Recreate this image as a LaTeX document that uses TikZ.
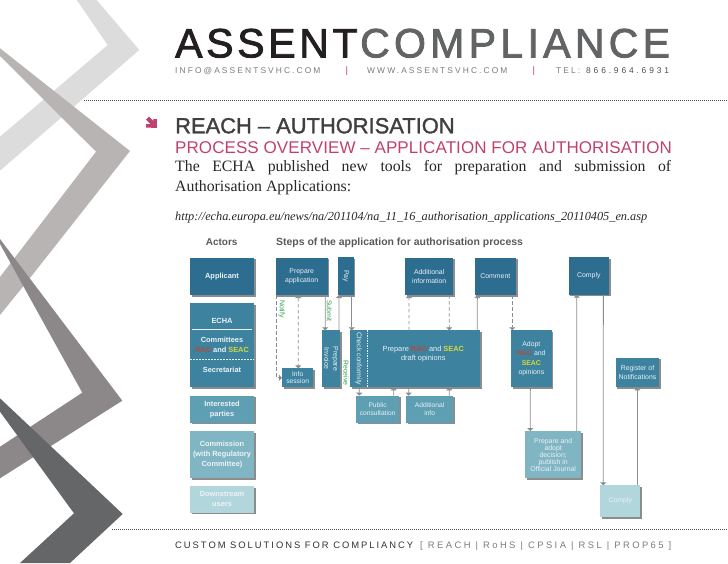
\documentclass[tikz,border=0pt]{standalone}
\usepackage{xcolor}
\usepackage{fontspec}
\usepackage{tikz}
\usetikzlibrary{positioning}
\usetikzlibrary{arrows.meta}
\usetikzlibrary{shadows}

\setmainfont{Liberation Sans}
\newfontfamily\headfont[LetterSpace=9,FakeBold=2]{Liberation Sans}
\newfontfamily\tailfont[LetterSpace=10.5,FakeBold=2]{Liberation Sans}
\newfontfamily\titlefont[FakeBold=1.5]{Liberation Sans}
\newfontfamily\stripfont[LetterSpace=25]{Liberation Sans}
\newfontfamily\digitfont[LetterSpace=34]{Liberation Sans}
\newfontfamily\footfont[LetterSpace=21]{Liberation Sans}
\newfontfamily\fieldfont[LetterSpace=26]{Liberation Sans}
\newfontfamily\subfont[LetterSpace=0.5]{Liberation Sans}
\newfontfamily\bodyfont{Liberation Serif}

\definecolor{crimson}{HTML}{C2406F}
\definecolor{headgray}{HTML}{626365}
\definecolor{inkgray}{HTML}{231F20}
\definecolor{stripgray}{HTML}{7A7B7E}
\definecolor{shadegray}{HTML}{8A8D90}
\definecolor{chevrona}{HTML}{DCDCDC}
\definecolor{chevronb}{HTML}{B8B4B3}
\definecolor{chevronc}{HTML}{8C8788}
\definecolor{chevrond}{HTML}{656667}
\definecolor{bluea}{HTML}{2C6D90}
\definecolor{blueb}{HTML}{3D83A0}
\definecolor{bluec}{HTML}{5E9FB4}
\definecolor{blued}{HTML}{80B6C4}
\definecolor{bluee}{HTML}{B1D7DD}
\definecolor{racred}{HTML}{B5493D}
\definecolor{seacyellow}{HTML}{D8D83C}
\definecolor{notegreen}{HTML}{2E9E4F}

\tikzset{
    text line/.style={inner sep=0pt, anchor=base west},
    box/.style={rectangle, inner sep=0pt, outer sep=0pt, anchor=north west, text=white!90!bluea, align=center,
        font=\fontsize{6.9}{9.4}\selectfont,
        drop shadow={shadow xshift=1.6pt, shadow yshift=-1.6pt, fill=black, opacity=.45}},
    actor text/.style={inner sep=0pt, text=white!92!bluea, align=center, font=\fontsize{7.4}{9.8}\selectfont\bfseries},
    side text/.style={inner sep=0pt, rotate=-90, text=white!90!bluea, align=center, font=\fontsize{6.9}{9}\selectfont},
    note/.style={inner sep=0pt, rotate=-90, text=notegreen, font=\fontsize{6.9}{8}\selectfont},
    flow/.style={draw=shadegray, line width=0.8pt, -{Triangle[length=3pt,width=6pt]}},
    dashflow/.style={flow, dashed, dash pattern=on 3.5pt off 2.5pt},
    rule/.style={draw=black!70, line width=0.7pt, dash pattern=on 1pt off 1pt},
    split/.style={draw=white!90!bluea, line width=0.7pt}
}

\begin{document}
\begin{tikzpicture}[x=1pt, y=-1pt]
        \useasboundingbox (0,0) rectangle (728,563);

        % Chevrons on the left
        \fill[color=chevrona] (76.7,0) -- (107.7,45) -- (0,136.7) -- (0,170.7) -- (139.3,50) -- (96.7,0) -- cycle;
        \fill[color=chevronb] (0,48.3) -- (130,151) -- (30,278) -- (0,315) -- (0,277) -- (96,151.7) -- (0,56) -- cycle;
        \fill[color=chevronc] (0,239) -- (122.3,400.7) -- (0,478.3) -- (0,446.7) -- (82.3,392.7) -- (0,244) -- cycle;
        \fill[color=chevrond] (0,398.3) -- (122.7,514) -- (70,563) -- (20,563) -- (74,513.3) -- (0,411.7) -- cycle;

        % Header
        \node[text line, text=inkgray, font=\headfont\fontsize{41}{41}\selectfont] (assent) at (175,57.4) {ASSENT};
        \node[text line, text=headgray, font=\tailfont\fontsize{41}{41}\selectfont] (compliance) at (360,57.4) {COMPLIANCE};
        \node[text line, text=stripgray, font=\stripfont\fontsize{8.4}{9}\selectfont] (mail) at (175,73.5) {INFO@ASSENTSVHC.COM};
        \node[text line, text=crimson, font=\fontsize{9.5}{10}\selectfont] (sepa) at (345.5,73.5) {|};
        \node[text line, text=stripgray, font=\stripfont\fontsize{8.4}{9}\selectfont] (web) at (367,73.5) {WWW.ASSENTSVHC.COM};
        \node[text line, text=crimson, font=\fontsize{9.5}{10}\selectfont] (sepb) at (532.5,73.5) {|};
        \node[text line, text=stripgray, font=\stripfont\fontsize{8.4}{9}\selectfont] (tel) at (556,73.5) {TEL:};
        \node[text line, text=black!70, font=\digitfont\fontsize{8.4}{9}\selectfont] (phone) at (586,73.5) {866.964.6931};

        \coordinate (ruletopa) at (84,100);
        \coordinate (ruletopb) at (728,100);
        \draw[rule] (ruletopa) -- (ruletopb);

        % Titles and text
        \fill[color=crimson] (156.8,128) -- (146,127.5) -- (146,124) -- (150.5,124) -- (146,119.5) -- (149,116.5) -- (153.3,121) -- (153.3,119) -- (156.8,119) -- cycle;
        \node[text line, text=black!75, font=\titlefont\fontsize{21.9}{24}\selectfont] (reach) at (175,133.3) {REACH – AUTHORISATION};
        \node[text line, text=crimson, font=\subfont\fontsize{17}{18}\selectfont] (process) at (175,153.3) {PROCESS OVERVIEW – APPLICATION FOR AUTHORISATION};
        \node[inner sep=0pt, anchor=north west, text width=496pt, align=justify, text=black!85, font=\bodyfont\fontsize{15.8}{19.7}\selectfont] (echatext) at (175,160) {The ECHA published new tools for preparation and submission of\linebreak Authorisation Applications:};
        \node[text line, text=black!85, font=\bodyfont\itshape\fontsize{12.3}{13}\selectfont] (url) at (175,220) {http://echa.europa.eu/news/na/201104/na\_11\_16\_authorisation\_applications\_20110405\_en.asp};

        % Column titles
        \node[inner sep=0pt, text=black!65, font=\fontsize{10}{12}\selectfont\bfseries] (actors) at (221.7,241.7) {Actors};
        \node[text line, text=black!65, font=\fontsize{10.45}{12}\selectfont\bfseries] (steps) at (276,245.3) {Steps of the application for authorisation process};

        % Actors
        \node[box, fill=bluea, minimum width=64pt, minimum height=37.3pt] (applicant) at (190,257.7) {};
        \node[actor text] (applicanttext) at (applicant) {Applicant};
        \node[box, fill=blueb, minimum width=64pt, minimum height=84pt, below=8.3pt of applicant] (echa) {};
        \node[actor text] (echaname) at (222,321) {ECHA};
        \node[actor text] (committees) at (222,345) {Committees\\{\color{racred}RAC} and {\color{seacyellow}SEAC}};
        \node[actor text] (secretariat) at (222,369.7) {Secretariat};
        \node[box, fill=bluec, minimum width=64pt, minimum height=27pt, below=8.4pt of echa] (parties) {};
        \node[actor text] (partiestext) at (parties) {Interested\\parties};
        \node[box, fill=blued, minimum width=64pt, minimum height=47.3pt, below=8.3pt of parties] (commission) {};
        \node[actor text] (commissiontext) at (commission) {Commission\\(with Regulatory\\Committee)};
        \node[box, fill=bluee, minimum width=64pt, minimum height=26.7pt, below=7.7pt of commission] (users) {};
        \node[actor text] (userstext) at (users) {Downstream\\users};

        \coordinate (echaline) at (0,329.3);
        \coordinate (echadash) at (0,359.7);
        \draw[split] ([xshift=2pt]echa.west |- echaline) -- ([xshift=-2pt]echa.east |- echaline);
        \draw[split, dash pattern=on 2pt off 1pt] (echa.west |- echadash) -- (echa.east |- echadash);

        % Steps, top row
        \node[box, fill=bluea, minimum width=52pt, minimum height=37.3pt] (prepare) at (275.7,257.7) {Prepare\\application};
        \node[box, fill=bluea, minimum width=16pt, minimum height=37.6pt] (pay) at (337.7,257.4) {};
        \node[side text] (paytext) at (pay) {Pay};
        \node[box, fill=bluea, minimum width=47.7pt, minimum height=37.3pt] (addinf) at (405.3,257.7) {Additional\\information};
        \node[box, fill=bluea, minimum width=41.3pt, minimum height=37.3pt] (comment) at (474.7,257.7) {Comment};
        \node[box, fill=bluea, minimum width=40.3pt, minimum height=37.3pt] (comply) at (568.7,257.4) {Comply};

        % Steps, middle row
        \node[box, fill=blueb, minimum width=31.3pt, minimum height=19pt] (info) at (282,368.3) {};
        \node[inner sep=0pt, text=white!90!bluea, align=center, font=\fontsize{6.7}{7.2}\selectfont] (infotext) at (info) {Info\\session};
        \node[box, fill=blueb, minimum width=17.7pt, minimum height=57pt] (invoice) at (322.3,330.3) {};
        \node[side text] (invoicetext) at (invoice) {Prepare\\Invoice};
        \node[box, fill=blueb, minimum width=130pt, minimum height=57pt] (draft) at (350,330.3) {};
        \node[side text] (check) at (358.7,358.8) {Check conformity};
        \node[inner sep=0pt, text=white!90!bluea, align=center, font=\fontsize{7.4}{9.8}\selectfont] (drafttext) at (423.3,354) {Prepare {\color{racred}\bfseries RAC} and {\color{seacyellow}\bfseries SEAC}\\draft opinions};
        \node[box, fill=blueb, minimum width=40.7pt, minimum height=57pt] (adopt) at (511,330.3) {Adopt\\{\color{racred}\bfseries RAC} and\\{\color{seacyellow}\bfseries SEAC}\\opinions};
        \node[box, fill=blueb, minimum width=43.6pt, minimum height=29.6pt] (register) at (615.7,357.7) {Register of\\Notifications};
        \draw[split, dash pattern=on 1.5pt off 1pt] ([xshift=-47.7pt]draft.north) -- ([xshift=-47.7pt]draft.south);

        % Steps, lower rows
        \node[box, fill=bluec, minimum width=43.3pt, minimum height=27pt, font=\fontsize{6.7}{7.4}\selectfont] (public) at (356,395.7) {Public\\consultation};
        \node[box, fill=bluec, minimum width=47.3pt, minimum height=27pt, font=\fontsize{6.7}{8.6}\selectfont] (addinfo) at (406,395.7) {Additional\\info};
        \node[box, fill=blued, minimum width=55.7pt, minimum height=47.3pt, font=\fontsize{6.9}{7}\selectfont] (decision) at (525.3,431) {Prepare and\\adopt\\decision;\\publish in\\Official Journal};
        \node[box, fill=bluee, minimum width=40pt, minimum height=31.7pt] (complyb) at (600.3,485.3) {Comply};

        % Green labels
        \node[note] (notify) at (281.7,309) {Notify};
        \node[note] (submit) at (329.3,311) {Submit};
        \node[note] (receive) at (346,373) {Receive};

        % Arrows
        \draw[dashflow] ([xshift=-25.4pt]prepare.south) |- (info.west);
        \draw[dashflow, {Triangle[length=3pt,width=6pt]}-{Triangle[length=3pt,width=6pt]}] ([xshift=-3.4pt]prepare.south) -- ([xshift=0.6pt]info.north);
        \draw[flow] ([xshift=23.6pt]prepare.south) -- ([xshift=-5.9pt]invoice.north);
        \draw[flow] ([xshift=7.8pt]invoice.north) -- ([xshift=-6.7pt]pay.south);
        \draw[flow] ([xshift=6pt]pay.south) -- ([xshift=-63.3pt]draft.north);
        \draw[dashflow] ([xshift=-6pt]draft.north) -- ([xshift=-20.2pt]addinf.south);
        \draw[dashflow] ([xshift=20.1pt]addinf.south) -- ([xshift=34.3pt]draft.north);
        \draw[flow] ([xshift=62.3pt]draft.north) -- ([xshift=-18pt]comment.south);
        \draw[dashflow] ([xshift=17pt]comment.south) -- ([xshift=-19pt]adopt.north);
        \draw[flow] ([xshift=-1pt]adopt.south) -- ([xshift=-22.9pt]decision.north);
        \draw[flow] ([xshift=23.5pt]decision.north) -- ([xshift=-12.1pt]comply.south);
        \draw[flow] ([xshift=14.5pt]comply.south) -- ([xshift=-17pt]complyb.north);
        \draw[flow] ([xshift=17pt]complyb.north) -- ([xshift=-0.2pt]register.south);
        \draw[flow] ([xshift=-55.7pt]draft.south) -- ([xshift=-18.4pt]public.north);
        \draw[flow] ([xshift=16pt]public.north) -- ([xshift=-21.3pt]draft.south);
        \draw[flow] ([xshift=-6.3pt]draft.south) -- ([xshift=-21pt]addinfo.north);
        \draw[flow] ([xshift=19.6pt]addinfo.north) -- ([xshift=34.3pt]draft.south);

        % Footer
        \coordinate (rulebota) at (112,529.3);
        \coordinate (rulebotb) at (728,529.3);
        \draw[rule] (rulebota) -- (rulebotb);
        \node[text line, text=black!80, font=\footfont\fontsize{9.4}{10}\selectfont] (custom) at (175,548) {CUSTOM SOLUTIONS FOR COMPLIANCY};
        \node[text line, text=stripgray, font=\fieldfont\fontsize{9.4}{10}\selectfont] (fields) at (420,548) {[ REACH | RoHS | CPSIA | RSL | PROP65 ]};
\end{tikzpicture}
\end{document}
